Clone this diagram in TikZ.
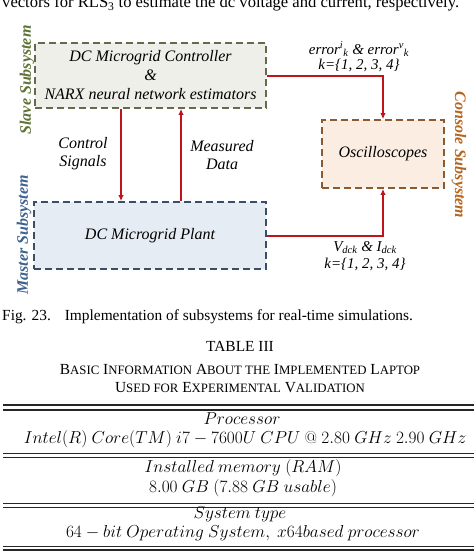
\RequirePackage{fix-cm}
\documentclass[tikz,border=0pt]{standalone}
\usepackage[no-math]{fontspec}
\setmainfont{Liberation Serif}
\usetikzlibrary{arrows.meta,calc}
\definecolor{myred}{HTML}{C0141C}
\definecolor{slaveC}{HTML}{666A4C}
\definecolor{slaveF}{HTML}{EEEFE8}
\definecolor{slaveT}{HTML}{5E7236}
\definecolor{masterC}{HTML}{3A4E66}
\definecolor{masterF}{HTML}{E6ECF3}
\definecolor{masterT}{HTML}{3E6290}
\definecolor{oscC}{HTML}{8A5A33}
\definecolor{oscF}{HTML}{FBEDE2}
\definecolor{oscT}{HTML}{B5651D}
\newcommand\smc[1]{{\fontsize{12.8}{13}\selectfont #1}}
\begin{document}
\begin{tikzpicture}[x=1pt,y=-1pt,
  box/.style={draw, dash pattern=on 7pt off 4pt, line width=1.8pt, inner sep=0pt,
    font=\fontsize{16}{19}\selectfont\itshape, align=center},
  lbl/.style={font=\fontsize{16}{18}\selectfont\itshape, align=center},
  sub/.style={font=\fontsize{16}{16}\selectfont\bfseries\itshape},
  arr/.style={draw=myred, color=myred, line width=2pt, -{Latex[length=6pt,width=5.5pt]}},
  tline/.style={line width=1.1pt, draw=black!85},
  ttext/.style={font=\fontsize{17.3}{20}\selectfont, align=center}]
\useasboundingbox (0,0) rectangle (474,551);
% top running text
\node[anchor=base west, inner sep=0pt, font=\fontsize{16.6}{20}\selectfont] (toptext) at (2,8)
  {vectors for RLS\textsubscript{3} to estimate the dc voltage and current, respectively.};
% boxes
\node[box, draw=slaveC, fill=slaveF, minimum width=231pt, minimum height=65pt] (slave) at (150.5,75.5)
  {DC Microgrid Controller\\\&\\NARX neural network estimators};
\node[box, draw=masterC, fill=masterF, minimum width=232pt, minimum height=67pt] (master) at (150,235.5)
  {DC Microgrid Plant};
\node[box, draw=oscC, fill=oscF, minimum width=122pt, minimum height=68pt] (osc) at (383,154)
  {Oscilloscopes};
% subsystem labels
\node[sub, text=slaveT, rotate=90] (slavelbl) at (27,80) {Slave Subsystem};
\node[sub, text=masterT, rotate=90] (masterlbl) at (24,235) {Master Subsystem};
\node[sub, text=oscT, rotate=-90] (osclbl) at (459,155) {Console Subsystem};
% connectors
\coordinate (cx) at (121,0);
\coordinate (mx) at (181,0);
\draw[arr] (slave.south -| cx) -- (master.north -| cx);
\draw[arr] (master.north -| mx) -- (slave.south -| mx);
\draw[arr] (slave.east) -| (osc.north);
\draw[arr] (master.east) -| (osc.south);
% labels
\node[lbl] (ctrl) at (83,154) {Control\\Signals};
\node[lbl] (meas) at (222,155) {Measured\\Data};
\node[lbl, font=\fontsize{15}{15.5}\selectfont\itshape] (errl) at (359,57)
  {error\textsuperscript{i}\textsubscript{k} \& error\textsuperscript{v}\textsubscript{k}\\k=\{1, 2, 3, 4\}};
\node[lbl, font=\fontsize{15}{17}\selectfont\itshape] (vl) at (365,256)
  {V\textsubscript{dck} \& I\textsubscript{dck}\\k=\{1, 2, 3, 4\}};
% caption and table title
\node[anchor=base west, inner sep=0pt, font=\fontsize{15.4}{17}\selectfont] (cap) at (2,320)
  {Fig. 23.\hspace{0.9em}Implementation of subsystems for real-time simulations.};
\node[anchor=base, inner sep=0pt, font=\fontsize{15.4}{17}\selectfont] (tabt) at (240,351) {TABLE III};
\node[anchor=base, inner sep=0pt, font=\fontsize{15.4}{17}\selectfont] (tabc1) at (240,374)
  {B\smc{ASIC} I\smc{NFORMATION} A\smc{BOUT THE} I\smc{MPLEMENTED} L\smc{APTOP}};
\node[anchor=base, inner sep=0pt, font=\fontsize{15.4}{17}\selectfont] (tabc2) at (240,392)
  {U\smc{SED FOR} E\smc{XPERIMENTAL} V\smc{ALIDATION}};
% table rules
\foreach \y in {405,410,453.5,457.5,503.5,507.5,546.5} {\draw[tline] (3,\y) -- (474,\y);}
\draw[line width=2.5pt, draw=black!85] (3,550.5) -- (474,550.5);
% table text
\node[ttext, anchor=base] (r1a) at (242,424) {$Processor$};
\node[ttext, anchor=base] (r1b) at (245,443) {$Intel(R)\ Core(TM)\ i7-7600U\ CPU\ @\ 2.80\ GHz\ 2.90\ GHz$};
\node[ttext, anchor=base] (r2a) at (243,472) {$Installed\ memory\ (RAM)$};
\node[ttext, anchor=base] (r2b) at (243,492) {$8.00\ GB\ (7.88\ GB\ usable)$};
\node[ttext, anchor=base] (r3a) at (240,518) {$System\ type$};
\node[ttext, anchor=base] (r3b) at (243,537.5) {$64-bit\ Operating\ System,\ x64based\ processor$};
\end{tikzpicture}
\end{document}
